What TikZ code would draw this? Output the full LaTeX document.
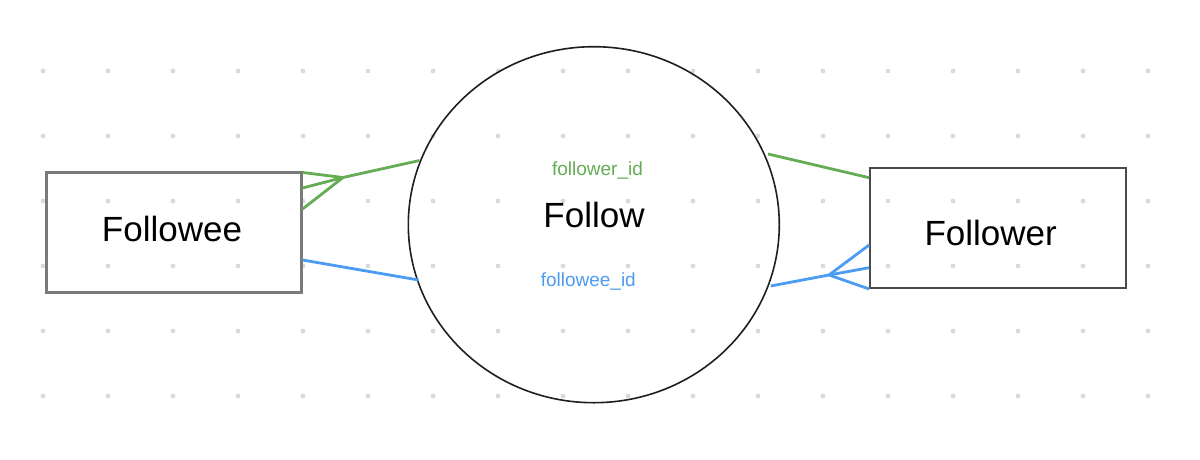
\documentclass[tikz,border=0pt]{standalone}
\usepackage{fontspec}
\setmainfont{Liberation Sans}
\usetikzlibrary{shapes.geometric}
\definecolor{gdot}{HTML}{DADADA}
\definecolor{grn}{HTML}{64AD54}
\definecolor{blu}{HTML}{4C9CF3}
\definecolor{boxgrayA}{HTML}{7A7A7A}
\definecolor{boxgrayB}{HTML}{4A4A4A}
\tikzset{
  entbox/.style={draw, minimum width=#1, minimum height=120pt, inner sep=0pt},
  bigtxt/.style={font=\fontsize{35}{40}\selectfont, anchor=base, inner sep=0pt},
  smalltxt/.style={font=\fontsize{19}{22}\selectfont, anchor=base, inner sep=0pt},
  glink/.style={draw=grn, line width=2.8pt, line join=round},
  blink/.style={draw=blu, line width=2.8pt, line join=round},
}
\begin{document}
\begin{tikzpicture}[x=1pt,y=-1pt]
\useasboundingbox (0,0) rectangle (1200,459);
\fill[white] (0,0) rectangle (1200,459);
% dot grid
\foreach \i in {0,...,17}{
  \foreach \j in {0,...,5}{
    \fill[gdot] ({43+65*\i},{71+65*\j}) circle (2.4pt);
  }
}
% shapes
\node[entbox=254.6pt, minimum height=119.6pt, draw=boxgrayA, line width=2.6pt] (lbox) at (174,232.5) {};
\node[entbox=255.7pt, draw=boxgrayB, line width=1.8pt] (rbox) at (997.9,228.3) {};
\node[ellipse, draw=black!88, line width=1.6pt, minimum width=371pt, minimum height=356pt, inner sep=0pt] (circ) at (593.8,224.7) {};
% texts
\node[bigtxt] (tlee) at (172,241.7) {Followee};
\node[bigtxt] (tler) at (990.7,245) {Follower};
\node[bigtxt] (tfol) at (594,227.3) {Follow};
\node[smalltxt, text=grn] (tfid) at (597.5,175) {follower\_id};
\node[smalltxt, text=blu] (teid) at (588.3,286.7) {followee\_id};
% connector coordinates
\coordinate (gl1) at (419.5,160.5);
\coordinate (gla) at (343,177.5);
\coordinate (glm) at (lbox.east |- 0,188);
\coordinate (glt) at (lbox.east |- 0,172.5);
\coordinate (glb) at (lbox.east |- 0,209);
\coordinate (bl1) at (lbox.east |- 0,260);
\coordinate (bl2) at (418.5,280);
\coordinate (gr1) at (768,154);
\coordinate (gr2) at (rbox.west |- 0,177.7);
\coordinate (br1) at (770.7,286);
\coordinate (bra) at (829,275);
\coordinate (brt) at (rbox.west |- 0,245);
\coordinate (brm) at (rbox.west |- 0,267.7);
\coordinate (brb) at (rbox.west |- 0,289);
% connectors
\draw[glink] (gl1) -- (gla) -- (glm);
\draw[glink] (glt) -- (gla) -- (glb);
\draw[blink] (bl1) -- (bl2);
\draw[glink] (gr1) -- (gr2);
\draw[blink] (br1) -- (bra) -- (brm);
\draw[blink] (brt) -- (bra) -- (brb);
\end{tikzpicture}
\end{document}
